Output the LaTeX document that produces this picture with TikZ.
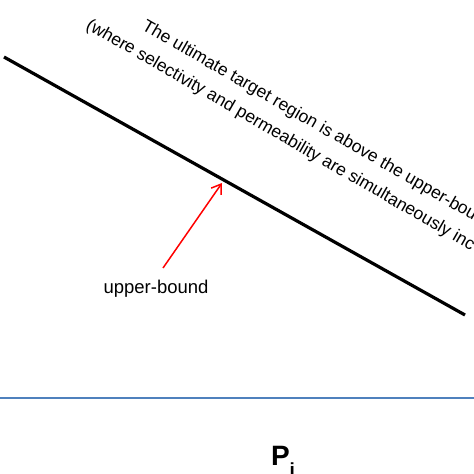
\documentclass[tikz,border=0pt]{standalone}
\usepackage{fontspec}
\setmainfont{Liberation Sans}
\usetikzlibrary{arrows.meta}
\definecolor{axisblue}{RGB}{79,129,189}
\begin{document}
\begin{tikzpicture}[x=1pt,y=-1pt,
  slanted/.style={rotate=-30, anchor=base west, inner sep=0pt, font=\fontsize{17.5}{20}\selectfont}]
\useasboundingbox (0,0) rectangle (474,474);
\clip (0,0) rectangle (474,474);

\coordinate (b1) at (4,57);
\coordinate (b2) at (465,315);
\draw[line width=3.2pt] (b1) -- (b2);
%upper bound line

\node[slanted] (t1) at (141,29) {The ultimate target region is above the upper-bou};
\node[slanted] (t2) at (85,28) {(where selectivity and permeability are simultaneously inc};
%target region text

\node[anchor=base, inner sep=0pt, font=\fontsize{18.5}{20}\selectfont] (ub) at (156,293) {upper-bound};
\coordinate (tail) at (163,268);
\coordinate (tip) at (222,183);
\draw[-{Straight Barb[length=9pt,width=12pt]}, red, line width=1.5pt] (tail) -- (tip);
%label with arrow

\coordinate (a1) at (0,398);
\coordinate (a2) at (474,398);
\draw[axisblue, line width=2.6pt] (a1) -- (a2);
\node[anchor=base, inner sep=0pt, font=\fontsize{28}{30}\selectfont\bfseries] (pi) at (283,465) {P\raisebox{-0.4em}{\fontsize{19}{20}\selectfont i}};
%axis
\end{tikzpicture}
\end{document}
